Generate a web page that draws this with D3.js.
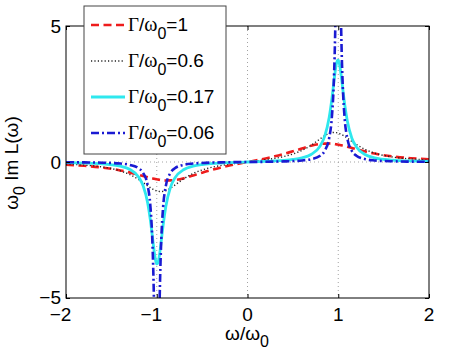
<!DOCTYPE html>
<html><head><meta charset="utf-8">
<script src="https://cdn.jsdelivr.net/npm/d3@7"></script>
<style>body{margin:0;background:#fff}svg{display:block}</style>
</head><body>
<svg id="c" width="474" height="356"></svg>
<script>
const omega = [-2,-1.8,-1.6,-1.4,-1.3,-1.2,-1.15,-1.1,-1.07,-1.05,-1.04,-1.03,-1.02,-1.01,-1,-0.99,-0.98,-0.97,-0.96,-0.95,-0.93,-0.9,-0.85,-0.8,-0.7,-0.6,-0.5,-0.4,-0.3,-0.2,-0.1,0,0.1,0.2,0.3,0.4,0.5,0.6,0.7,0.8,0.85,0.9,0.93,0.95,0.96,0.97,0.98,0.99,1,1.01,1.02,1.03,1.04,1.05,1.07,1.1,1.15,1.2,1.3,1.4,1.6,1.8,2];
const gamma1 = [-0.098,-0.139,-0.204,-0.309,-0.382,-0.468,-0.514,-0.559,-0.585,-0.601,-0.609,-0.616,-0.624,-0.630,-0.637,-0.643,-0.649,-0.654,-0.659,-0.664,-0.671,-0.678,-0.677,-0.662,-0.594,-0.497,-0.392,-0.294,-0.208,-0.132,-0.064,0,
 0.064,0.132,0.208,0.294,0.392,0.497,0.594,0.662,0.677,0.678,0.671,0.664,0.659,0.654,0.649,0.643,0.637,0.630,0.624,0.616,0.609,0.601,0.585,0.559,0.514,0.468,0.382,0.309,0.204,0.139,0.098];
const gamma06 = [-0.073,-0.111,-0.182,-0.329,-0.458,-0.644,-0.758,-0.876,-0.944,-0.985,-1.004,-1.021,-1.036,-1.050,-1.062,-1.071,-1.078,-1.083,-1.086,-1.086,-1.078,-1.050,-0.964,-0.849,-0.613,-0.425,-0.293,-0.200,-0.133,-0.082,-0.039,0,
 0.039,0.082,0.133,0.200,0.293,0.425,0.613,0.849,0.964,1.050,1.078,1.086,1.086,1.083,1.078,1.071,1.062,1.050,1.036,1.021,1.004,0.985,0.944,0.876,0.758,0.644,0.458,0.329,0.182,0.111,0.073];
const gamma017 = [-0.024,-0.038,-0.069,-0.155,-0.268,-0.553,-0.876,-1.506,-2.142,-2.684,-2.970,-3.245,-3.485,-3.660,-3.747,-3.733,-3.619,-3.424,-3.171,-2.891,-2.329,-1.638,-0.940,-0.585,-0.276,-0.155,-0.095,-0.061,-0.039,-0.023,-0.011,0,
 0.011,0.023,0.039,0.061,0.095,0.155,0.276,0.585,0.940,1.638,2.329,2.891,3.171,3.424,3.619,3.733,3.747,3.660,3.485,3.245,2.970,2.684,2.142,1.506,0.876,0.553,0.268,0.155,0.069,0.038,0.024];
const gamma006 = [-0.009,-0.014,-0.025,-0.058,-0.103,-0.231,-0.404,-0.868,-1.628,-2.772,-3.767,-5.230,-7.250,-9.470,-10.62,-9.640,-7.454,-5.389,-3.880,-2.847,-1.664,-0.882,-0.408,-0.232,-0.102,-0.056,-0.034,-0.022,-0.014,-0.008,-0.004,0,
 0.004,0.008,0.014,0.022,0.034,0.056,0.102,0.232,0.408,0.882,1.664,2.847,3.880,5.389,7.454,9.640,10.62,9.470,7.250,5.230,3.767,2.772,1.628,0.868,0.404,0.231,0.103,0.058,0.025,0.014,0.009];
const seriesNames = ["1","0.6","0.17","0.06"];
const xTicks = [-2,-1,0,1,2];
const yTicks = [-5,0,5];

const svg = d3.select("#c");
const L = 66, R = 429, T = 26, B = 298;
const x = d3.scaleLinear().domain([-2,2]).range([L,R]);
const y = d3.scaleLinear().domain([-5,5]).range([B,T]);
const sans = "'Liberation Sans', Arial, Helvetica, sans-serif";
const serif = "'Liberation Serif', 'Times New Roman', serif";

const styles = [
  {data: gamma1, color: "#ee1c1c", width: 2.6, dash: "8,4.5"},
  {data: gamma06, color: "#222", width: 1.4, dash: "1.2,2.2"},
  {data: gamma017, color: "#2ee8ee", width: 2.8, dash: null},
  {data: gamma006, color: "#1a1ad2", width: 2.6, dash: "8,3,2,3"}
];

svg.append("defs").append("clipPath").attr("id","clip")
  .append("rect").attr("x",L).attr("y",T).attr("width",R-L).attr("height",B-T);

// grid
const grid = svg.append("g").attr("stroke","#999").attr("stroke-width",0.9).attr("stroke-dasharray","1,3");
xTicks.filter(t => t > -2 && t < 2).forEach(t => grid.append("line").attr("x1",x(t)).attr("x2",x(t)).attr("y1",T).attr("y2",B));
yTicks.filter(t => t > -5 && t < 5).forEach(t => grid.append("line").attr("x1",L).attr("x2",R).attr("y1",y(t)).attr("y2",y(t)));

// curves
const line = d3.line().x((d,i) => x(omega[i])).y(d => y(d)).curve(d3.curveMonotoneX);
const cg = svg.append("g").attr("clip-path","url(#clip)");
styles.forEach(s => {
  cg.append("path").attr("d", line(s.data)).attr("fill","none")
    .attr("stroke", s.color).attr("stroke-width", s.width)
    .attr("stroke-dasharray", s.dash).attr("stroke-linejoin","round");
});

// axes box
svg.append("rect").attr("x",L).attr("y",T).attr("width",R-L).attr("height",B-T)
  .attr("fill","none").attr("stroke","#000").attr("stroke-width",1);

const axB = d3.axisBottom(x).tickValues(xTicks).tickSize(-4).tickFormat("");
const axT = d3.axisTop(x).tickValues(xTicks).tickSize(-4).tickFormat("");
const axLf = d3.axisLeft(y).tickValues(yTicks).tickSize(-4).tickFormat("");
const axRt = d3.axisRight(y).tickValues(yTicks).tickSize(-4).tickFormat("");
[[axB,`translate(0,${B})`],[axT,`translate(0,${T})`],[axLf,`translate(${L},0)`],[axRt,`translate(${R},0)`]].forEach(([a,tr]) => {
  const g = svg.append("g").attr("transform",tr).call(a);
  g.select(".domain").remove();
  g.selectAll(".tick line").attr("stroke","#000");
});

// tick labels
const fmt = v => v < 0 ? "\u2212" + Math.abs(v) : String(v);
svg.append("g").selectAll("text").data(xTicks).join("text")
  .attr("x", d => x(d) - (d < 0 ? 5.5 : 0)).attr("y", 321)
  .attr("text-anchor","middle").attr("font-family",sans).attr("font-size",19)
  .text(fmt);
svg.append("g").selectAll("text").data(yTicks).join("text")
  .attr("x", L - 5).attr("y", d => y(d) - (d === -5 ? 1 : 0)).attr("dy","0.35em")
  .attr("text-anchor","end").attr("font-family",sans).attr("font-size",19)
  .text(fmt);

// axis labels
const xl = svg.append("text").attr("x", 247).attr("y", 340).attr("text-anchor","middle")
  .attr("font-family",sans).attr("font-size",19);
xl.append("tspan").text("\u03c9/\u03c9");
xl.append("tspan").attr("dy",7).attr("font-size",16).text("0");

const yl = svg.append("text").attr("transform","translate(18,163) rotate(-90)").attr("text-anchor","middle")
  .attr("font-family",sans).attr("font-size",19);
yl.append("tspan").text("\u03c9");
yl.append("tspan").attr("dy",7).attr("font-size",16).text("0");
yl.append("tspan").attr("dy",-7).text(" Im L(\u03c9)");

// legend
const lg = svg.append("g");
lg.append("rect").attr("x",84).attr("y",6).attr("width",142).attr("height",148)
  .attr("fill","#fff").attr("stroke","#444").attr("stroke-width",1);
styles.forEach((s,i) => {
  const yy = 25 + i*36;
  lg.append("line").attr("x1",91).attr("x2",125).attr("y1",yy).attr("y2",yy)
    .attr("stroke",s.color).attr("stroke-width",s.width).attr("stroke-dasharray",s.dash);
  const t = lg.append("text").attr("x",128).attr("y",yy+6).attr("font-family",sans).attr("font-size",19);
  t.append("tspan").attr("font-family",serif).text("\u0393");
  t.append("tspan").text("/");
  t.append("tspan").attr("font-family",serif).attr("font-size",20).text("\u03c9");
  t.append("tspan").attr("dy",8).attr("font-size",16).text("0");
  t.append("tspan").attr("dy",-8).text("=" + seriesNames[i]);
});
</script>
</body></html>
